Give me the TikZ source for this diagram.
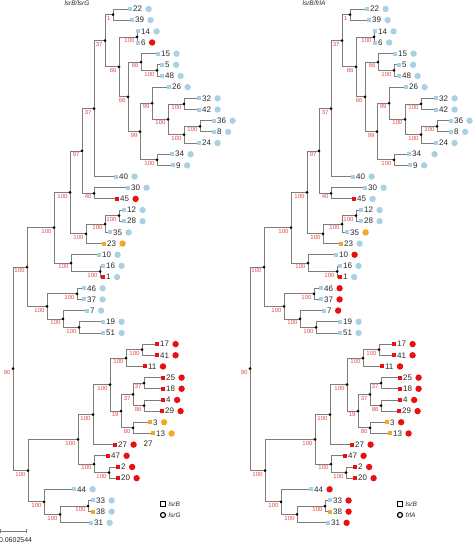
\documentclass[tikz,border=0pt]{standalone}
\usepackage{fontspec}
\setmainfont{Liberation Sans}
\usetikzlibrary{backgrounds}
\definecolor{lb}{RGB}{168,210,227}
\definecolor{rd}{RGB}{232,16,16}
\definecolor{org}{RGB}{245,168,36}
\definecolor{brc}{RGB}{125,125,125}
\definecolor{bsc}{RGB}{232,72,72}
\definecolor{txt}{RGB}{40,40,40}
\tikzset{
 sq/.style={rectangle, inner sep=0, minimum size=4pt, anchor=center},
 num/.style={anchor=west, inner sep=0, font=\fontsize{8}{8}\selectfont, text=txt},
 circ/.style={circle, inner sep=0, minimum size=6.4pt, anchor=west},
 ndot/.style={circle, fill=black, inner sep=0, minimum size=3pt},
 bs/.style={anchor=north east, inner sep=0, font=\fontsize{6}{6}\selectfont, text=bsc},
 brl/.style={draw=brc, line width=0.8pt},
 ttl/.style={inner sep=0, font=\fontsize{6.5}{6.5}\selectfont\itshape, text=txt},
 leg/.style={anchor=west, inner sep=0, font=\fontsize{6.5}{6.5}\selectfont\itshape, text=txt},
}
\newcommand\setcc[3]{\expandafter\def\csname cc#1#2\endcsname{#3}}
\newcommand\setgap[3]{\expandafter\def\csname gap#1#2\endcsname{#3}}
\newcommand\lf[4]{%
  \node[sq, fill=#4] (L#1) at (#2,{9+(#3-1)*11.17}) {};
  \node[num] (T#1) at ([xshift=0.7pt]L#1.east) {#1};
  \edef\tmpc{\ifcsname cc\treeid#1\endcsname\csname cc\treeid#1\endcsname\else lb\fi}%
  \edef\tmpg{\ifcsname gap\treeid#1\endcsname\csname gap\treeid#1\endcsname\else 0\fi}%
  \node[circ, fill=\tmpc] (C#1) at ([xshift={\tmpg+3}]T#1.east) {};
}
\newcommand\nd[4]{%
  \node[ndot] (#1) at (#2,{9+(#3-1)*11.17}) {};
  \node[bs] (b#1) at ([xshift=-2.3pt,yshift=-1.3pt]#1.center) {#4};
}
\newcommand\ei[2]{\draw[brl] (#1.center) |- (#2.center);}
\newcommand\el[2]{\draw[brl] (#1.center) |- (L#2.west);}

\newcommand\treebody[2]{%
\lf{22}{130}{1}{lb}
\lf{39}{132}{2}{lb}
\lf{14}{138}{3}{lb}
\lf{6}{138}{4}{lb}
\lf{15}{158}{5}{lb}
\lf{5}{162}{6}{lb}
\lf{48}{162}{7}{lb}
\lf{26}{169}{8}{lb}
\lf{32}{199}{9}{lb}
\lf{42}{199}{10}{lb}
\lf{36}{214}{11}{lb}
\lf{8}{214}{12}{lb}
\lf{24}{199}{13}{lb}
\lf{34}{172}{14}{lb}
\lf{9}{173}{15}{lb}
\lf{40}{116}{16}{lb}
\lf{30}{128}{17}{lb}
\lf{45}{117}{18}{rd}
\lf{12}{124}{19}{lb}
\lf{28}{124}{20}{lb}
\lf{35}{110}{21}{lb}
\lf{23}{104}{22}{org}
\lf{10}{99}{23}{lb}
\lf{16}{103}{24}{lb}
\lf{1}{103}{25}{rd}
\lf{46}{84}{26}{lb}
\lf{37}{84}{27}{lb}
\lf{7}{87}{28}{lb}
\lf{19}{103}{29}{lb}
\lf{51}{103}{30}{lb}
\lf{17}{157}{31}{rd}
\lf{41}{157}{32}{rd}
\lf{11}{145}{33}{rd}
\lf{25}{163}{34}{rd}
\lf{18}{163}{35}{rd}
\lf{4}{163}{36}{rd}
\lf{29}{162}{37}{rd}
\lf{3}{150}{38}{org}
\lf{13}{153}{39}{org}
\lf{27}{115}{40}{rd}
\lf{47}{108}{41}{rd}
\lf{2}{118}{42}{rd}
\lf{20}{118}{43}{rd}
\lf{44}{74}{44}{lb}
\lf{33}{93}{45}{lb}
\lf{38}{93}{46}{org}
\lf{31}{91}{47}{lb}
%
\nd{n2239}{113}{1.5}{1}
\nd{n146}{137}{3.5}{100}
\nd{n548}{157}{6.5}{100}
\nd{n15}{141}{5.75}{66}
\nd{n3242}{184}{9.5}{100}
\nd{n368}{200}{11.5}{100}
\nd{n24}{184}{12.25}{100}
\nd{n32}{168}{10.875}{100}
\nd{n26}{152}{9.4375}{99}
\nd{n349}{157}{14.5}{100}
\nd{n99b}{140}{11.97}{99}
\nd{n66b}{128}{8.86}{66}
\nd{n66a}{119}{6.18}{66}
\nd{n37a}{105}{3.84}{37}
\nd{n37b}{94}{9.92}{37}
\nd{n3045}{94}{17.5}{40}
\nd{n97}{82}{13.71}{97}
\nd{n1228}{119}{19.5}{100}
\nd{n35}{105}{20.25}{100}
\nd{n23}{86}{21.125}{100}
\nd{nA}{70}{17.42}{100}
\nd{n161}{100}{24.5}{100}
\nd{n10}{71}{23.75}{100}
\nd{nU1}{54}{20.58}{100}
\nd{n4637}{77}{26.5}{100}
\nd{n1951}{79}{29.5}{100}
\nd{n7}{63}{28.75}{100}
\nd{nU2}{47}{27.625}{100}
\nd{nU}{27}{24.1}{100}
\nd{n1741}{142}{31.5}{100}
\nd{n11}{126}{32.25}{100}
\nd{n2518}{144}{34.5}{37}
\nd{n429}{144}{36.5}{86}
\nd{n37c}{133}{35.5}{37}
\nd{n313}{133}{38.5}{80}
\nd{n19}{121}{37}{19}
\nd{n110}{110}{34.625}{100}
\nd{n27}{93}{37.31}{100}
\nd{n220}{109}{42.5}{100}
\nd{n47}{94}{41.75}{100}
\nd{nB1}{78}{39.53}{100}
\nd{n3338}{88}{45.5}{100}
\nd{n31}{60}{46.25}{100}
\nd{n44}{44}{45.125}{100}
\nd{nL}{28}{42.33}{100}
\nd{root}{13}{33.2}{90}
%
\begin{scope}[on background layer]
\el{n2239}{22} \el{n2239}{39}
\el{n146}{14} \el{n146}{6}
\el{n548}{5} \el{n548}{48}
\el{n15}{15} \ei{n15}{n548}
\el{n3242}{32} \el{n3242}{42}
\el{n368}{36} \el{n368}{8}
\ei{n24}{n368} \el{n24}{24}
\ei{n32}{n3242} \ei{n32}{n24}
\el{n26}{26} \ei{n26}{n32}
\el{n349}{34} \el{n349}{9}
\ei{n99b}{n26} \ei{n99b}{n349}
\ei{n66b}{n15} \ei{n66b}{n99b}
\ei{n66a}{n146} \ei{n66a}{n66b}
\ei{n37a}{n2239} \ei{n37a}{n66a}
\ei{n37b}{n37a} \el{n37b}{40}
\el{n3045}{30} \el{n3045}{45}
\ei{n97}{n37b} \ei{n97}{n3045}
\el{n1228}{12} \el{n1228}{28}
\ei{n35}{n1228} \el{n35}{35}
\ei{n23}{n35} \el{n23}{23}
\ei{nA}{n97} \ei{nA}{n23}
\el{n161}{16} \el{n161}{1}
\el{n10}{10} \ei{n10}{n161}
\ei{nU1}{nA} \ei{nU1}{n10}
\el{n4637}{46} \el{n4637}{37}
\el{n1951}{19} \el{n1951}{51}
\el{n7}{7} \ei{n7}{n1951}
\ei{nU2}{n4637} \ei{nU2}{n7}
\ei{nU}{nU1} \ei{nU}{nU2}
\el{n1741}{17} \el{n1741}{41}
\ei{n11}{n1741} \el{n11}{11}
\el{n2518}{25} \el{n2518}{18}
\el{n429}{4} \el{n429}{29}
\ei{n37c}{n2518} \ei{n37c}{n429}
\el{n313}{3} \el{n313}{13}
\ei{n19}{n37c} \ei{n19}{n313}
\ei{n110}{n11} \ei{n110}{n19}
\ei{n27}{n110} \el{n27}{27}
\el{n220}{2} \el{n220}{20}
\el{n47}{47} \ei{n47}{n220}
\ei{nB1}{n27} \ei{nB1}{n47}
\el{n3338}{33} \el{n3338}{38}
\ei{n31}{n3338} \el{n31}{31}
\el{n44}{44} \ei{n44}{n31}
\ei{nL}{nB1} \ei{nL}{n44}
\ei{root}{nU} \ei{root}{nL}
\end{scope}
%
\node[ttl] (title) at (77,3) {#1};
\node[rectangle, draw=black, line width=1.2pt, inner sep=0, minimum size=4.4pt] (legsq) at (163,504) {};
\node[circle, draw=black, line width=1.2pt, inner sep=0, minimum size=5pt] (legci) at (163,515) {};
\node[leg] (legsqt) at (168.5,504) {lsrB};
\node[leg] (legcit) at (168.5,515) {#2};
}

% circle colours, left tree (lsrG)
\setcc{L}{6}{rd}\setcc{L}{45}{rd}\setcc{L}{23}{org}
\setcc{L}{17}{rd}\setcc{L}{41}{rd}\setcc{L}{11}{rd}\setcc{L}{25}{rd}\setcc{L}{18}{rd}\setcc{L}{4}{rd}\setcc{L}{29}{rd}
\setcc{L}{3}{org}\setcc{L}{13}{org}
\setcc{L}{27}{rd}\setcc{L}{47}{rd}\setcc{L}{2}{rd}\setcc{L}{20}{rd}
% circle colours, right tree (frlA)
\setcc{R}{35}{org}\setcc{R}{10}{rd}\setcc{R}{46}{rd}\setcc{R}{37}{rd}\setcc{R}{7}{rd}
\setcc{R}{17}{rd}\setcc{R}{41}{rd}\setcc{R}{11}{rd}\setcc{R}{25}{rd}\setcc{R}{18}{rd}\setcc{R}{4}{rd}\setcc{R}{29}{rd}
\setcc{R}{3}{rd}\setcc{R}{13}{rd}
\setcc{R}{27}{rd}\setcc{R}{47}{rd}\setcc{R}{2}{rd}\setcc{R}{20}{rd}
\setcc{R}{44}{rd}\setcc{R}{33}{rd}\setcc{R}{38}{rd}\setcc{R}{31}{rd}
\setgap{R}{34}{7}

\begin{document}
\begin{tikzpicture}[x=1pt,y=-1pt]
\useasboundingbox (0,0) rectangle (474,544);
\begin{scope}[name prefix=A-]
\def\treeid{L}
\treebody{lsrB/lsrG}{lsrG}
\node[num] (stray27) at (143.5,444) {27};
\end{scope}
\begin{scope}[name prefix=B-, xshift=237pt]
\def\treeid{R}
\treebody{lsrB/frlA}{frlA}
\end{scope}
\coordinate (s0) at (0,531);
\coordinate (s1) at (26,531);
\draw[brl] (s0) -- (s1);
\draw[brl] ([yshift=-2pt]s0) -- ([yshift=2pt]s0);
\draw[brl] ([yshift=-2pt]s1) -- ([yshift=2pt]s1);
\node[anchor=north west, inner sep=0, font=\fontsize{7}{7}\selectfont, text=txt] (scale) at (-1.2,537.5) {0.0602544};
\end{tikzpicture}
\end{document}
